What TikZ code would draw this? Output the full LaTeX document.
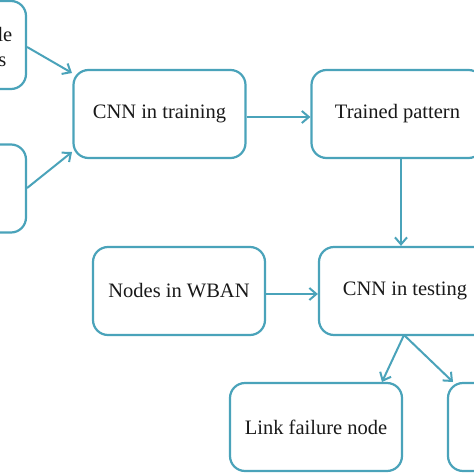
\documentclass[tikz,border=0pt]{standalone}
\usepackage{fontspec}
\setmainfont{Liberation Serif}
\usetikzlibrary{arrows.meta}
\definecolor{lc}{RGB}{74,163,186}
\tikzset{
  box/.style={draw=lc, line width=2.2pt, rounded corners=15pt, rectangle,
    minimum width=172pt, minimum height=88pt, inner sep=0pt,
    font=\fontsize{20.5}{24}\selectfont, text=black!90},
  lbl/.style={inner sep=0pt, font=\fontsize{20.5}{24}\selectfont, text=black!90},
  arr/.style={draw=lc, line width=2pt, -{Straight Barb[length=7pt,width=12pt,line width=2pt]}}
}
\begin{document}
\begin{tikzpicture}[x=1pt,y=-1pt]
\useasboundingbox (0,0) rectangle (474,474);
\clip (0,0) rectangle (474,474);
\fill[white] (0,0) rectangle (474,474);
% left cropped boxes
\node[box] (b1) at (-60,45) {};
\node[box] (b2) at (-60,188.5) {};
\node[lbl, anchor=base east] (t1) at (12.5,41) {le};
\node[lbl, anchor=base east] (t2) at (6.5,66) {s};
% main boxes
\node[box] (train) at (159.5,114) {CNN in training};
\node[box] (pat) at (397.5,114) {Trained pattern};
\node[box] (wban) at (179,291) {Nodes in WBAN};
\node[box] (test) at (405,291) {CNN in testing};
\node[box] (link) at (316,427) {Link failure node};
\node[box] (other) at (534,427) {};
% connectors
\coordinate (a1s) at (27,47);
\coordinate (a1e) at (72,73);
\coordinate (a2s) at (27,188);
\coordinate (a2e) at (72,152);
\draw[arr] (b1.east |- a1s) -- (a1e);
\draw[arr] (b2.east |- a2s) -- (a2e);
\draw[arr] ([yshift=-3pt]train.east) -- ([yshift=-3pt]pat.west);
\draw[arr] (pat.south -| 401,0) -- (test.north -| 401,0);
\draw[arr] ([yshift=-3pt]wban.east) -- ([yshift=-3pt]test.west);
\coordinate (split) at (404,335);
\draw[arr] (split) -- (382,382);
\draw[arr] (split) -- (453,382);
\end{tikzpicture}
\end{document}
